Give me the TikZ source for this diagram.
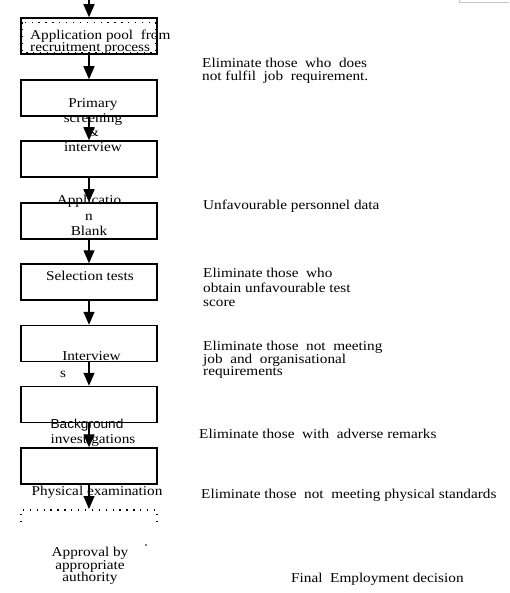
\documentclass[tikz,border=0pt]{standalone}
\usepackage{fontspec}
\setmainfont[FakeStretch=1.13]{Liberation Serif}
\newfontfamily\bgfont[FakeStretch=1.05]{Liberation Sans}
\usetikzlibrary{arrows.meta}

\begin{document}
\begin{tikzpicture}[x=1pt, y=-1pt,
  stage/.style={draw, line width=1.5pt, minimum width=136pt, minimum height=36pt, inner sep=0pt},
  flow/.style={line width=1.4pt, -{Triangle[length=13pt,width=11pt]}},
  txt/.style={inner sep=0pt, font=\fontsize{13.5}{12.5}\selectfont},
  note/.style={txt, align=left, anchor=west},
  dots/.style={line width=1.3pt, dash pattern=on 1.3pt off 5.6pt}]
\useasboundingbox (0,0) rectangle (509,593);

% the stages
\node[stage] (pool) at (89,36) {};
\node[stage] (primary) at (89,98) {};
\node[stage] (interview) at (89,159) {};
\node[stage] (blank) at (89,221) {};
\node[stage] (tests) at (89,282) {};
\node[stage] (interviews) at (89,343.5) {};
\node[stage] (background) at (89,404.5) {};
\node[stage] (physical) at (89,466) {};
\draw[dots] ([shift={(2,5)}]pool.north west) rectangle ([shift={(-2,-2)}]pool.south east);
\coordinate (start) at (89,0);
\coordinate (approval) at (89,509);
\draw[dots] (21,522) -- (21,510) -- (157,510) -- (157,524);
\fill (146,545) circle (0.9);

% arrows
\draw[flow] (start) -- (pool.north);
\foreach \a/\b in {pool/primary, primary/interview, interview/blank, blank/tests,
  tests/interviews, interviews/background, background/physical}
  \draw[flow] (\a.south) -- (\b.north);
\draw[flow] (physical.south) -- (approval);

% stage texts
\node[txt, align=left, anchor=west] (pooltxt) at (30,42) {Application pool\ \ from\\recruitment process};
\node[txt, align=center, font=\fontsize{13.5}{14.8}\selectfont] (primarytxt) at (93,125) {Primary\\screening\\\&\\interview};
\node[txt, align=center, font=\fontsize{13.5}{15.5}\selectfont] (blanktxt) at (89,215.5) {Applicatio\\n\\Blank};
\node[txt] (teststxt) at (90,276) {Selection tests};
\node[txt] (interviewstxt) at (91.5,356) {Interview};
\node[txt] (interviewss) at (63,374) {s};
\node[txt, font=\fontsize{13}{12.5}\bgfont] (bgtxt) at (87,425) {Background};
\node[txt] (invtxt) at (93,440) {investigations};
\node[txt] (physicaltxt) at (97,492) {Physical examination};
\node[txt, align=center] (approvaltxt) at (90,566) {Approval by\\appropriate\\authority};

% notes on the right
\node[note] (n1) at (202,71) {Eliminate those\ \ who\ \ does\\not fulfil\ \ job\ \ requirement.};
\node[note] (n2) at (203,206) {Unfavourable personnel data};
\node[note, font=\fontsize{13.5}{14.5}\selectfont] (n3) at (203,287.5) {Eliminate those\ \ who\\obtain unfavourable test\\score};
\node[note] (n4) at (203,360) {Eliminate those\ \ not\ \ meeting\\job\ \ and\ \ organisational\\requirements};
\node[note] (n5) at (199,434) {Eliminate those\ \ with\ \ adverse remarks};
\node[note] (n6) at (201,495) {Eliminate those\ \ not\ \ meeting physical standards};
\node[note] (n7) at (291,579) {Final\ \ Employment decision};

% corner mark
\draw[gray!45, line width=1pt] (459,0) -- (459,2.5) -- (509,2.5);
\end{tikzpicture}
\end{document}
